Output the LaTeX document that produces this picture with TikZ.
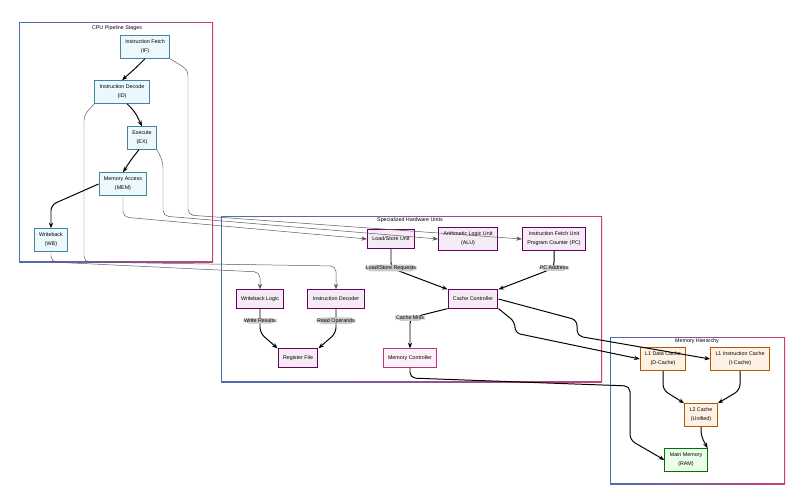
\documentclass[tikz,border=0pt]{standalone}
\usepackage{tikz}
\usetikzlibrary{positioning,arrows.meta,calc}
\usepackage{xcolor}
\usepackage{fontspec}
\setmainfont{Liberation Sans}
\definecolor{clblue}{HTML}{4A6DB5}
\definecolor{clpink}{HTML}{C8407A}

\begin{document}
\begin{tikzpicture}[
  x=0.025cm, y=-0.025cm,
  stage/.style={rectangle, draw=cyan!60!black, fill=cyan!8, line width=0.7pt,
    align=center, font=\fontsize{3.8}{6.5}\selectfont, inner xsep=3.5pt,
    inner ysep=3pt, minimum height=13pt},
  unit/.style={stage, draw=violet!80!black, fill=violet!8},
  memctl/.style={stage, draw=magenta!70!black, fill=magenta!6},
  cache/.style={stage, draw=orange!70!black, fill=orange!10},
  ram/.style={stage, draw=green!45!black, fill=green!8},
  title/.style={font=\fontsize{3.8}{5}\selectfont},
  lbl/.style={fill=black!20, inner sep=0.6pt, font=\fontsize{3.8}{5}\selectfont},
  flow/.style={draw, line width=0.7pt, rounded corners=4pt, -{Stealth[length=4pt]}},
  link/.style={draw, black!65, line width=0.35pt, rounded corners=4pt, -{Stealth[length=4pt]}},
]
  \useasboundingbox (0,0) rectangle (800,494);
  % Clusters
  \foreach \xa/\ya/\xb/\yb in {19/22/213/262, 221/216/602/382, 610/337/785/484} {
    \shade[left color=clblue, right color=clpink] (\xa,\ya) rectangle (\xb,\yb);
    \fill[white] (\xa+1,\ya+1) rectangle (\xb-1,\yb-1);
  }
  \node[title] (tpipe) at (117,28) {CPU Pipeline Stages};
  \node[title] (thw) at (410,220) {Specialized Hardware Units};
  \node[title] (tmem) at (697,341) {Memory Hierarchy};

  % Pipeline stages
  \node[stage] (if) at (145,47) {Instruction Fetch\\(IF)};
  \node[stage] (id) at (122,92) {Instruction Decode\\(ID)};
  \node[stage] (ex) at (142,138) {Execute\\(EX)};
  \node[stage] (mem) at (123,184) {Memory Access\\(MEM)};
  \node[stage] (wb) at (51,240) {Writeback\\(WB)};

  % Hardware units
  \node[unit] (lsu) at (391,239) {Load/Store Unit};
  \node[unit] (alu) at (468,239) {Arithmetic Logic Unit\\(ALU)};
  \node[unit] (ifu) at (554,239) {Instruction Fetch Unit\\Program Counter (PC)};
  \node[unit] (cc) at (473,299) {Cache Controller};
  \node[unit] (wbl) at (260,299) {Writeback Logic};
  \node[unit] (idec) at (336,299) {Instruction Decoder};
  \node[unit] (rf) at (298,358) {Register File};
  \node[memctl] (mc) at (410,358) {Memory Controller};

  % Memory hierarchy
  \node[cache] (l1d) at (663,359) {L1 Data Cache\\(D-Cache)};
  \node[cache] (l1i) at (740,359) {L1 Instruction Cache\\(I-Cache)};
  \node[cache] (l2) at (701,415) {L2 Cache\\(Unified)};
  \node[ram] (ram) at (686,460) {Main Memory\\(RAM)};

  % Pipeline flow
  \draw[flow] (if.south) -- ++(-8,8) -- (id.north);
  \draw[flow] (id.south) ++(5,0) -- ++(8,8) -- (ex.north);
  \draw[flow] (ex.south) ++(-3,0) -- ++(-8,10) -- (mem.north);
  \draw[flow] (mem.west) -- (51,205) -- (wb.north);

  % Pipeline to hardware
  \draw[link] (if.south east) -- (188,70) -- (188,215) -- (ifu.west);
  \draw[link] (ex.south east) -- (163,162) -- (163,216) -- (alu.west);
  \draw[link] (mem.south) -- (123,217) -- (lsu.west);
  \draw[link] (id.south west) -- (84,115) -- (84,262) -- (336,266) -- (idec.north);
  \draw[link] (wb.south) -- (51,262) -- (260,272) -- (wbl.north);

  % Hardware flow
  \draw[flow] (lsu.south) -- (391,268) -- node[lbl, pos=0]{Load/Store Requests} (cc.north west);
  \draw[flow] (ifu.south) -- (554,268) -- node[lbl, pos=0]{PC Address} (cc.north east);
  \draw[flow] (wbl.south) -- node[lbl]{Write Results} (260,333) -- (rf.north west);
  \draw[flow] (idec.south) -- node[lbl]{Read Operands} (336,333) -- (rf.north east);
  \draw[flow] (cc.south west) -- (410,318) node[lbl]{Cache Miss} -- (mc.north);
  \draw[flow] (cc.south east) -- (515,322) -- (515,333) -- (l1d.west);
  \draw[flow] (cc.east) -- (577,320) -- (577,336) -- (l1i.west);
  \draw[flow] (mc.south) -- (410,378) -- (630,386) -- (630,440) -- (ram.west);

  % Memory flow
  \draw[flow] (l1d.south) -- (663,390) -- (l2.north west);
  \draw[flow] (l1i.south) -- (740,390) -- (l2.north east);
  \draw[flow] (l2.south) -- (701,436) -- (ram.north east);
\end{tikzpicture}
\end{document}
